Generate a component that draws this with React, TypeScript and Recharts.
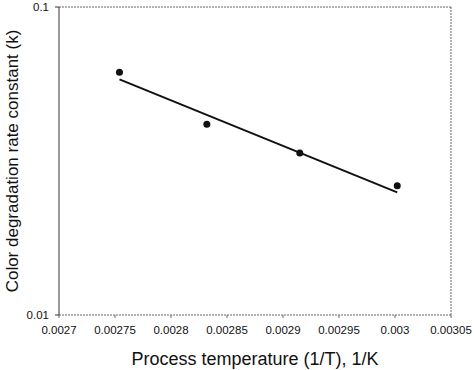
import { ScatterChart, Scatter, XAxis, YAxis, ReferenceLine } from 'recharts';

// measured points: 1/T (1/K) vs rate constant k
const invTemp = [0.002754, 0.002832, 0.002915, 0.003002];
const rateK = [0.0614, 0.0416, 0.0336, 0.0263];

// fitted trend line end points
const fitX = [0.002754, 0.003002];
const fitK = [0.0582, 0.025];

const xTicks = [0.0027, 0.00275, 0.0028, 0.00285, 0.0029, 0.00295, 0.003, 0.00305];
const xTickLabels = ['0.0027', '0.00275', '0.0028', '0.00285', '0.0029', '0.00295', '0.003', '0.00305'];
const yTicks = [0.01, 0.1];
const yTickLabels = ['0.01', '0.1'];

const points = invTemp.map((x, i) => ({ x, k: rateK[i] }));
const fit = fitX.map((x, i) => ({ x, k: fitK[i] }));

const font = 'Liberation Sans, Arial, sans-serif';
const frame = { stroke: '#666', strokeDasharray: '2 1' };

export default function App() {
  return (
    <div style={{ position: 'fixed', left: 0, top: 0, width: 474, height: 370, background: '#fff', fontFamily: font }}>
      <ScatterChart width={474} height={370} margin={{ top: 7, right: 23, left: 0, bottom: 0 }}>
        <XAxis
          type="number"
          dataKey="x"
          domain={[0.0027, 0.00305]}
          ticks={xTicks}
          tickFormatter={(v, i) => xTickLabels[i] ?? String(v)}
          height={55}
          tickSize={3}
          tickMargin={8}
          interval={0}
          axisLine={frame}
          tickLine={{ stroke: '#666' }}
          tick={{ fill: '#111', fontSize: 11.5, fontFamily: font }}
          label={{ value: 'Process temperature (1/T), 1/K', position: 'insideBottom', offset: 5, fill: '#111', fontSize: 18, fontFamily: font }}
        />
        <YAxis
          type="number"
          dataKey="k"
          scale="log"
          domain={[0.01, 0.1]}
          ticks={yTicks}
          tickFormatter={(v, i) => yTickLabels[i] ?? String(v)}
          width={59}
          tickSize={4}
          tickMargin={6}
          interval={0}
          axisLine={{ stroke: '#333' }}
          tickLine={{ stroke: '#333' }}
          tick={{ fill: '#111', fontSize: 11.5, fontFamily: font }}
          label={{ value: 'Color degradation rate constant (k)', angle: -90, position: 'insideLeft', offset: 12, fill: '#111', fontSize: 17, fontFamily: font, style: { textAnchor: 'middle' } }}
        />
        <ReferenceLine y={0.1} stroke="#666" strokeDasharray="2 1" />
        <ReferenceLine x={0.00305} stroke="#666" strokeDasharray="2 1" />
        <Scatter
          data={fit}
          line={{ stroke: '#111', strokeWidth: 2 }}
          lineType="joint"
          shape={() => <g />}
          isAnimationActive={false}
        />
        <Scatter data={points} fill="#111" shape={(p: any) => <circle cx={p.cx} cy={p.cy} r={3.5} fill="#111" />} isAnimationActive={false} />
      </ScatterChart>
    </div>
  );
}
